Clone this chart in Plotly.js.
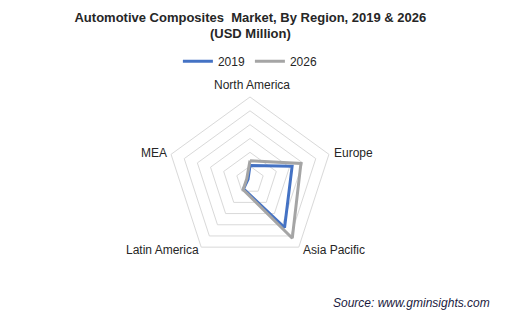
<!DOCTYPE html>
<html>
<head>
<meta charset="utf-8">
<script src="https://cdn.plot.ly/plotly-3.0.1.min.js"></script>
<style>html,body{margin:0;padding:0;background:#fff;}#chart{width:511px;height:327px;}</style>
</head>
<body>
<div id="chart"></div>
<script>
var regions = ["North America", "Europe", "Asia Pacific", "Latin America", "MEA"];
var values2019 = [1050, 3200, 4250, 800, 150];
var values2026 = [1400, 3870, 5200, 850, 250];
var seriesNames = ["2019", "2026"];
var seriesColors = ["#4472C4", "#A5A5A5"];

function closeLoop(a) { return a.concat([a[0]]); }

var traces = [values2019, values2026].map(function (vals, i) {
  return {
    type: "scatterpolar",
    mode: "lines",
    r: closeLoop(vals),
    theta: closeLoop(regions),
    name: seriesNames[i],
    line: {color: seriesColors[i], width: 3},
    hoverinfo: "skip"
  };
});

// label placement around the pentagon (layout only)
var labelPos = [
  {x: 0.493, y: 0.740, xanchor: "center"},
  {x: 0.650, y: 0.532, xanchor: "left"},
  {x: 0.589, y: 0.2355, xanchor: "left"},
  {x: 0.393, y: 0.2355, xanchor: "right"},
  {x: 0.331, y: 0.532, xanchor: "right"}
];

var annotations = regions.map(function (name, i) {
  return {
    text: name,
    xref: "paper", yref: "paper",
    x: labelPos[i].x, y: labelPos[i].y,
    xanchor: labelPos[i].xanchor, yanchor: "middle",
    showarrow: false,
    font: {size: 12, color: "#262626"}
  };
});

annotations.push({
  text: "<i>Source: www.gminsights.com</i>",
  xref: "paper", yref: "paper",
  x: 0.962, xanchor: "right",
  y: 0.073, yanchor: "middle",
  showarrow: false,
  font: {size: 12, color: "#1a1a40"}
});

var layout = {
  width: 511,
  height: 327,
  margin: {l: 0, r: 0, t: 0, b: 0},
  paper_bgcolor: "#ffffff",
  font: {family: "Liberation Sans, Arial, sans-serif", size: 12, color: "#262626"},
  title: {
    text: "<b>Automotive Composites  Market, By Region, 2019 & 2026<br>(USD Million)</b>",
    font: {family: "Liberation Sans, Arial, sans-serif", size: 13, color: "#262626"},
    x: 0.49, xanchor: "center",
    y: 0.934, yanchor: "middle"
  },
  showlegend: true,
  legend: {
    orientation: "h",
    x: 0.49, xanchor: "center",
    y: 0.813, yanchor: "middle",
    font: {size: 12, color: "#262626"},
    itemwidth: 30,
    tracegroupgap: 0
  },
  polar: {
    domain: {x: [0.3268, 0.6517], y: [0.1957, 0.7034]},
    bgcolor: "rgba(0,0,0,0)",
    gridshape: "linear",
    angularaxis: {
      rotation: 90,
      direction: "clockwise",
      showgrid: false,
      showline: true,
      linecolor: "#d9d9d9",
      linewidth: 1,
      ticks: "",
      showticklabels: false
    },
    radialaxis: {
      range: [0, 6000],
      dtick: 1000,
      showticklabels: false,
      ticks: "",
      showline: false,
      showgrid: true,
      gridcolor: "#d9d9d9",
      gridwidth: 1
    }
  },
  annotations: annotations
};

Plotly.newPlot("chart", traces, layout, {displayModeBar: false, staticPlot: true});
</script>
</body>
</html>
